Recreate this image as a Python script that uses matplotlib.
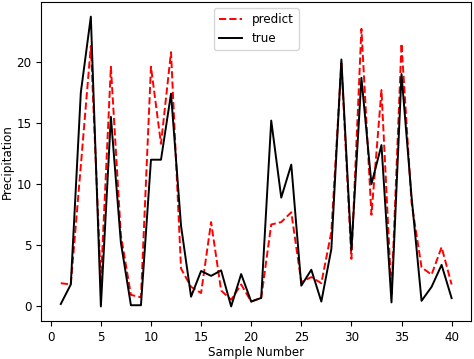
import numpy as np
import matplotlib
matplotlib.use("Agg")
import matplotlib.pyplot as plt

# --------------------------
# Data
# --------------------------
samples = list(range(1, 41))

true_vals = [0.2, 1.8, 17.5, 23.7, 0.0, 15.5, 5.2, 0.1, 0.1, 12.0,
             12.0, 17.4, 6.6, 0.8, 2.9, 2.5, 2.95, 0.0, 2.65, 0.4,
             0.7, 15.2, 8.9, 11.6, 1.7, 3.0, 0.4, 4.7, 20.2, 4.6,
             18.7, 10.0, 13.2, 0.33, 19.0, 9.0, 0.46, 1.6, 3.4, 0.68]

predict_vals = [1.9, 1.8, 11.5, 21.3, 2.0, 19.6, 5.8, 0.95, 0.75, 19.6,
                13.3, 20.8, 3.1, 1.6, 1.1, 6.9, 1.3, 0.55, 1.8, 0.4,
                0.7, 6.7, 6.9, 7.7, 2.0, 2.4, 1.9, 6.1, 19.9, 3.9,
                22.7, 7.5, 17.7, 1.0, 21.5, 8.5, 3.2, 2.6, 4.85, 1.8]

# --------------------------
# Plot
# --------------------------
plt.rcParams["font.size"] = 8.6
plt.rcParams["lines.linewidth"] = 1.4

fig = plt.figure(figsize=(4.74, 3.59), dpi=100)
ax = fig.add_subplot(111)
fig.subplots_adjust(left=0.087, right=0.994, top=0.994, bottom=0.106)

ax.plot(samples, predict_vals, "r--", label="predict")
ax.plot(samples, true_vals, "k-", label="true")

ax.set_xlabel("Sample Number", labelpad=2)
ax.set_ylabel("Precipitation", labelpad=2)
ax.set_xticks(np.arange(0, 41, 5))
ax.set_yticks(np.arange(0, 21, 5))
ax.legend(loc="upper center")

fig.savefig("out.png", dpi=100)
